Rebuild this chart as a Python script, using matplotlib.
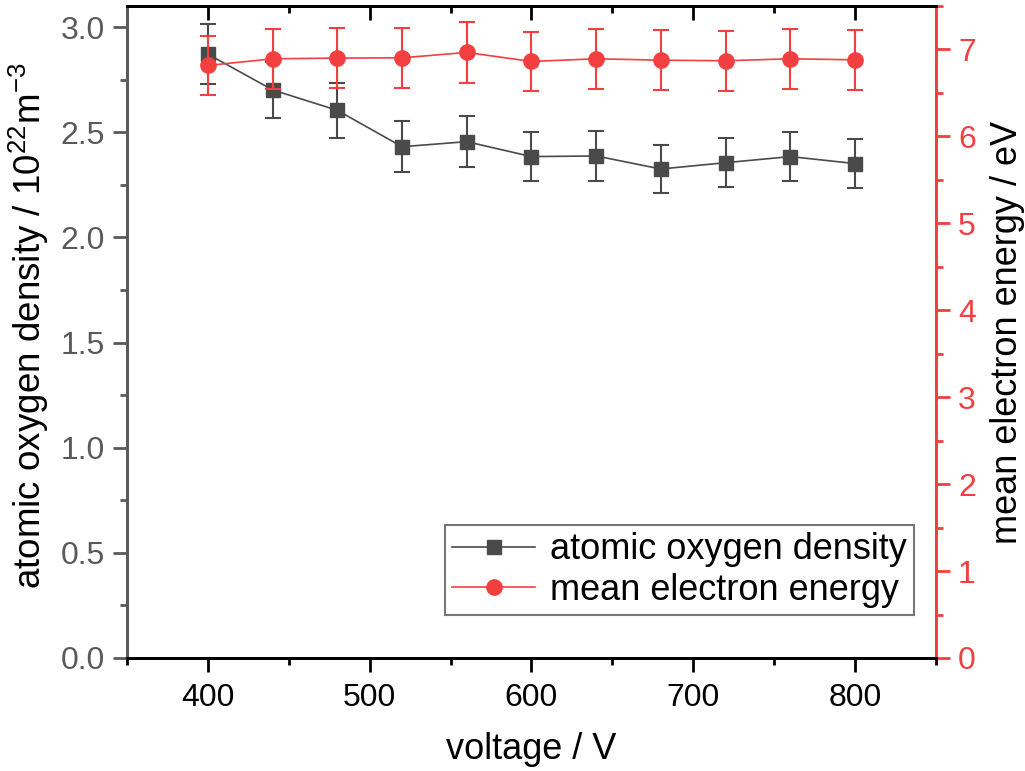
import matplotlib
matplotlib.use("Agg")
import matplotlib.pyplot as plt
from matplotlib.ticker import MultipleLocator

plt.rcParams['font.family'] = ['Liberation Sans', 'DejaVu Sans']
plt.rcParams['mathtext.default'] = 'regular'

# Data
voltage = [400, 440, 480, 520, 560, 600, 640, 680, 720, 760, 800]
o_density = [2.871, 2.701, 2.604, 2.431, 2.455, 2.384, 2.387, 2.325, 2.355, 2.384, 2.351]
o_err = [0.143, 0.135, 0.130, 0.121, 0.122, 0.118, 0.119, 0.115, 0.117, 0.118, 0.117]
energy = [6.816, 6.893, 6.901, 6.904, 6.966, 6.862, 6.893, 6.877, 6.870, 6.893, 6.881]
energy_err = [0.341, 0.345, 0.345, 0.345, 0.348, 0.343, 0.345, 0.344, 0.344, 0.345, 0.344]

gray = '#4a4a4a'
red = '#f33f3f'
spine_gray = '#5a5a5a'

fig = plt.figure(figsize=(10.25, 7.71), dpi=100)
ax = fig.add_axes([0.124, 0.1466, 0.789, 0.8456])
ax2 = ax.twinx()

# left series
ax.errorbar(voltage, o_density, yerr=o_err, fmt='none', ecolor=gray,
            elinewidth=1.5, capsize=6, capthick=1.5, zorder=2)
l1, = ax.plot(voltage, o_density, color=gray, lw=1.2, marker='s',
              markersize=10, label='atomic oxygen density', zorder=3)

# right series
ax2.errorbar(voltage, energy, yerr=energy_err, fmt='none', ecolor=red,
             elinewidth=1.5, capsize=6, capthick=1.5, zorder=2)
l2, = ax2.plot(voltage, energy, color=red, lw=1.2, marker='o',
               markersize=11, label='mean electron energy', zorder=3)

ax.set_xlim(350, 850)
ax.set_ylim(0, 3.1)
ax2.set_ylim(0, 7.5)

ax.xaxis.set_major_locator(MultipleLocator(100))
ax.xaxis.set_minor_locator(MultipleLocator(50))
ax.yaxis.set_major_locator(MultipleLocator(0.5))
ax.yaxis.set_minor_locator(MultipleLocator(0.25))
ax2.yaxis.set_major_locator(MultipleLocator(1))
ax2.yaxis.set_minor_locator(MultipleLocator(0.5))

# spines
for a in (ax, ax2):
    a.spines['top'].set_color('black')
    a.spines['bottom'].set_color('black')
    a.spines['left'].set_color(spine_gray)
    a.spines['right'].set_color(red)
    for s in a.spines.values():
        s.set_linewidth(2)

ax.tick_params(axis='x', which='both', direction='out', labelsize=23,
               width=2, colors='black', pad=8)
ax.tick_params(axis='x', which='major', length=10)
ax.tick_params(axis='x', which='minor', length=5)

# inward ticks on the top spine, no labels
top = ax.secondary_xaxis('top')
top.xaxis.set_major_locator(MultipleLocator(100))
top.xaxis.set_minor_locator(MultipleLocator(50))
top.tick_params(axis='x', which='both', direction='in', width=2,
                labeltop=False, color='black')
top.tick_params(axis='x', which='major', length=10)
top.tick_params(axis='x', which='minor', length=5)
top.spines['top'].set_linewidth(2)

ax.tick_params(axis='y', which='both', direction='out', labelsize=23,
               width=2, color=spine_gray, labelcolor=spine_gray, pad=6)
ax.tick_params(axis='y', which='major', length=10)
ax.tick_params(axis='y', which='minor', length=5)

ax2.tick_params(axis='y', which='both', direction='out', labelsize=23,
                width=2, color=red, labelcolor=red, pad=6)
ax2.tick_params(axis='y', which='major', length=10)
ax2.tick_params(axis='y', which='minor', length=5)

ax.set_xlabel('voltage / V', fontsize=26, labelpad=14)
ax.set_ylabel('atomic oxygen density / 10$^{22}$m$^{-3}$', fontsize=26.5)
ax.yaxis.set_label_coords(-0.094, 0.51)
ax2.set_ylabel('mean electron energy / eV', fontsize=26, labelpad=10)

leg = ax2.legend(handles=[l1, l2], loc='upper right',
                 bbox_to_anchor=(0.973, 0.204), borderaxespad=0,
                 fontsize=26, handlelength=2.3, handletextpad=0.4,
                 labelspacing=0.15, borderpad=0.2, fancybox=False,
                 edgecolor='#777777', framealpha=1)
leg.get_frame().set_linewidth(1.5)

fig.savefig('out.png', dpi=100)
